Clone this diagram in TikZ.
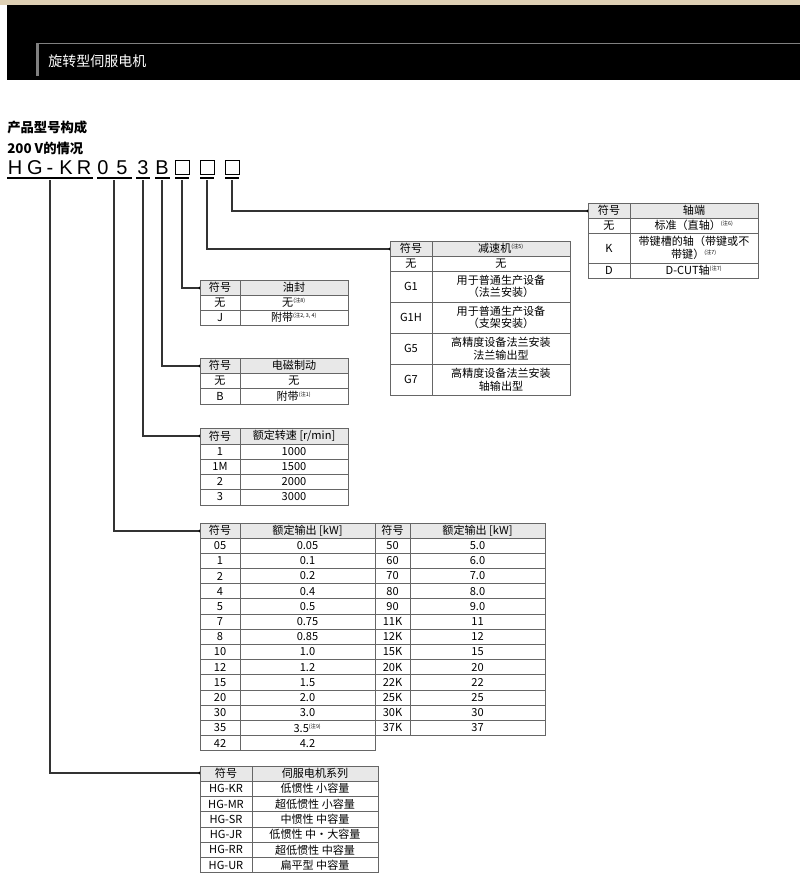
\documentclass[tikz,border=0pt]{standalone}
\usepackage{fontspec}
\setmainfont{Noto Sans CJK SC}
\newfontfamily\lat{Liberation Sans}
\begin{document}
\begin{tikzpicture}[x=0.75pt,y=-0.75pt,
  cell/.style={draw=gray!80!black,line width=0.6pt},
  hcell/.style={cell,fill=gray!18},
  txt/.style={font=\fontsize{8.3}{9.5}\selectfont,align=center,inner sep=0pt},
  code/.style={font=\lat\fontsize{15}{15}\selectfont,inner sep=0pt,anchor=base},
  conn/.style={draw=black!80,line width=0.9pt},
  dot/.style={circle,fill=black,inner sep=0pt,minimum size=2.5pt}]
\useasboundingbox (0,0) rectangle (800,883);
\fill[fill={rgb,255:red,222;green,208;blue,180}] (0,0) rectangle (800,5);
\fill[black] (7,5) rectangle (800,80);
\draw[gray,line width=0.6pt] (37,43) -- (800,43);
\fill[gray] (36,43) rectangle (39,76);
\node[txt,anchor=west,white,font=\fontsize{10.5}{12}\selectfont] (title) at (48,61) {旋转型伺服电机};
\node[anchor=west,inner sep=0pt,font=\bfseries\fontsize{10}{11}\selectfont] (h1) at (7,127) {产品型号构成};
\node[anchor=west,inner sep=0pt,font=\bfseries\fontsize{10}{11}\selectfont] (h2) at (7,148) {200 V的情况};
% model code
\foreach \c/\x in {H/15,G/35,-/50,K/66,R/84,0/103,5/122,3/143,B/162}{
  \node[code] at (\x,174) {\c};}
\foreach \x in {182,207,232}{\draw[line width=0.7pt] (\x-7,160) rectangle (\x+7,174);}
\foreach \a/\b in {7/93,97/132,136/150,155/170,175/189,200/214,225/239}{\draw[line width=0.8pt] (\a,178) -- (\b,178);}
% connectors
\coordinate (c1) at (50,180); \coordinate (c2) at (114,180); \coordinate (c3) at (143,180);
\coordinate (c4) at (162,180); \coordinate (c5) at (182,180); \coordinate (c6) at (207,180); \coordinate (c7) at (232,180);
\coordinate (t1) at (200,773); \coordinate (t2) at (200,531); \coordinate (t3) at (200,436);
\coordinate (t4) at (200,366); \coordinate (t5) at (200,288); \coordinate (t6) at (390,249); \coordinate (t7) at (588,211);
\foreach \i in {1,...,7}{\draw[conn] (c\i) |- (t\i); \node[dot] at (t\i) {};}
% row macro
\newcommand\trow[8]{%
 \draw[#1] (#2,#5) rectangle (#3,#6); \draw[#1] (#3,#5) rectangle (#4,#6);
 \node[txt] at ({(#2+#3)/2},{(#5+#6)/2}) {#7};
 \node[txt] at ({(#3+#4)/2},{(#5+#6)/2}) {#8};}
\newcommand\nt[1]{\textsuperscript{\fontsize{4}{4}\selectfont #1}}
% 油封
\trow{hcell}{200}{240}{348}{280}{295}{符号}{油封}
\trow{cell}{200}{240}{348}{295}{310}{无}{无\nt{(注8)}}
\trow{cell}{200}{240}{348}{310}{325}{J}{附带\nt{(注2, 3, 4)}}
% 电磁制动
\trow{hcell}{200}{240}{348}{358}{373}{符号}{电磁制动}
\trow{cell}{200}{240}{348}{373}{388}{无}{无}
\trow{cell}{200}{240}{348}{388}{404}{B}{附带\nt{(注1)}}
% 额定转速
\trow{hcell}{200}{240}{348}{428}{444}{符号}{额定转速 [r/min]}
\trow{cell}{200}{240}{348}{444}{459}{1}{1000}
\trow{cell}{200}{240}{348}{459}{474}{1M}{1500}
\trow{cell}{200}{240}{348}{474}{489}{2}{2000}
\trow{cell}{200}{240}{348}{489}{505}{3}{3000}
% 额定输出
\trow{hcell}{200}{240}{375}{523}{538}{符号}{额定输出 [kW]}
\trow{hcell}{375}{410}{545}{523}{538}{符号}{额定输出 [kW]}
\foreach \a/\b/\c/\d [count=\k from 0] in {05/0.05/50/5.0,1/0.1/60/6.0,2/0.2/70/7.0,4/0.4/80/8.0,5/0.5/90/9.0,7/0.75/11K/11,8/0.85/12K/12,10/1.0/15K/15,12/1.2/20K/20,15/1.5/22K/22,20/2.0/25K/25,30/3.0/30K/30}{
  \trow{cell}{200}{240}{375}{538+15.2*\k}{553.2+15.2*\k}{\a}{\b}
  \trow{cell}{375}{410}{545}{538+15.2*\k}{553.2+15.2*\k}{\c}{\d}}
\trow{cell}{200}{240}{375}{720.4}{735.6}{35}{3.5\nt{(注9)}}
\trow{cell}{375}{410}{545}{720.4}{735.6}{37K}{37}
\trow{cell}{200}{240}{375}{735.6}{750.8}{42}{4.2}
% 伺服电机系列
\trow{hcell}{200}{252}{378}{766}{781}{符号}{伺服电机系列}
\foreach \a/\b [count=\k from 0] in {HG-KR/低惯性 小容量,HG-MR/超低惯性 小容量,HG-SR/中惯性 中容量,HG-JR/低惯性 中·大容量,HG-RR/超低惯性 中容量,HG-UR/扁平型 中容量}{
  \trow{cell}{200}{252}{378}{781+15.3*\k}{796.3+15.3*\k}{\a}{\b}}
% 减速机
\trow{hcell}{390}{432}{570}{241}{256}{符号}{减速机\nt{(注5)}}
\trow{cell}{390}{432}{570}{256}{271}{无}{无}
\trow{cell}{390}{432}{570}{271}{302}{G1}{用于普通生产设备\\（法兰安装）}
\trow{cell}{390}{432}{570}{302}{333}{G1H}{用于普通生产设备\\（支架安装）}
\trow{cell}{390}{432}{570}{333}{364}{G5}{高精度设备法兰安装\\法兰输出型}
\trow{cell}{390}{432}{570}{364}{395}{G7}{高精度设备法兰安装\\轴输出型}
% 轴端
\trow{hcell}{588}{630}{758}{203}{218}{符号}{轴端}
\trow{cell}{588}{630}{758}{218}{233}{无}{标准（直轴）\nt{(注6)}}
\trow{cell}{588}{630}{758}{233}{263}{K}{带键槽的轴（带键或不\\带键）\nt{(注7)}}
\trow{cell}{588}{630}{758}{263}{278}{D}{D-CUT轴\nt{(注7)}}
\end{tikzpicture}
\end{document}
